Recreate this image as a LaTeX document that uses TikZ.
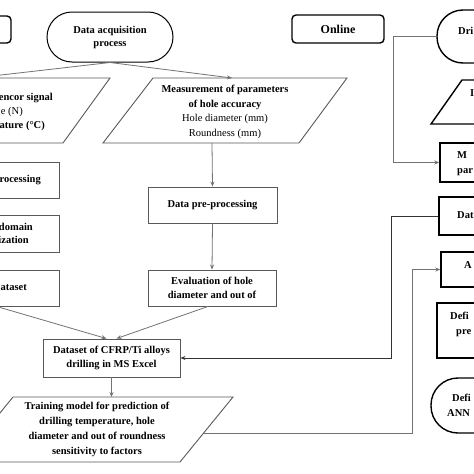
\documentclass[tikz,border=0pt]{standalone}
\usepackage{fontspec}
\setmainfont{Liberation Serif}
\usetikzlibrary{arrows.meta}
\begin{document}
\begin{tikzpicture}[x=1pt,y=-1pt,
  thinbox/.style={draw=black!65, line width=0.9pt, inner sep=0pt},
  thickbox/.style={draw=black, line width=1.4pt, inner sep=0pt},
  outl/.style={draw=black!65, line width=0.9pt},
  outlthick/.style={draw=black, line width=1.4pt},
  conn/.style={draw=black!55, line width=0.8pt},
  arr/.style={conn, -{Stealth[length=5pt,width=4pt]}},
  darr/.style={draw=black!80, line width=0.9pt, -{Stealth[length=5pt,width=4pt]}},
  txt/.style={font=\fontsize{10.5}{14}\selectfont\bfseries, align=center, inner sep=0pt},
  frag/.style={font=\fontsize{10.5}{14}\selectfont\bfseries, inner sep=0pt},
  fragr/.style={font=\fontsize{10.5}{14}\selectfont, inner sep=0pt}]
\useasboundingbox (0,0) rectangle (474,474);
\clip (0,0) rectangle (474,474);
\fill[white] (0,0) rectangle (474,474);

% left-top cut box
\node[thickbox, rounded corners=4pt, minimum width=71, minimum height=27] (tl) at (-24.5,29.5) {};
% data acquisition
\node[draw=black, line width=1pt, rounded corners=25pt, minimum width=126, minimum height=50, txt] (acq) at (110,37) {Data acquisition\\[-1pt]process};
% online
\node[thickbox, rounded corners=4pt, minimum width=92, minimum height=28, frag, font=\fontsize{12}{14}\selectfont\bfseries] (online) at (338,29) {Online};

% left parallelogram
\draw[outl] (-60,78) -- (110,78) -- (63,143) -- (-107,143) -- cycle;
\coordinate (lp) at (-25,78);
\node[frag, anchor=east] (s1) at (53,98) {encor signal};
\node[fragr, anchor=east] (s2) at (23,112) {e (N)};
\node[frag, anchor=east] (s3) at (45,126) {ature (°C)};

% measurement parallelogram
\draw[outl] (153,78) -- (347,78) -- (299,143) -- (103,143) -- cycle;
\coordinate (mp) at (232,78);
\coordinate (mpb) at (212,143);
\node[txt] (meas) at (225,112) {Measurement of parameters\\[1pt]of hole accuracy\\{\mdseries Hole diameter (mm)}\\[1pt]{\mdseries Roundness (mm)}};

% middle column
\node[thinbox, minimum width=129, minimum height=36, txt] (prep) at (212.5,205) {Data pre-processing};
\node[thinbox, minimum width=128, minimum height=36, txt] (eval) at (212,288) {Evaluation of hole\\diameter and out of};

% left column (cut)
\node[thinbox, minimum width=139, minimum height=36] (lb1) at (-10.5,180) {};
\node[frag, anchor=east] (t1) at (41,180) {rocessing};
\node[thinbox, minimum width=139, minimum height=37] (lb2) at (-10.5,233.5) {};
\node[frag, anchor=east] (t2) at (33,227) {domain};
\node[frag, anchor=east] (t3) at (29,240) {ization};
\node[thinbox, minimum width=139, minimum height=36] (lb3) at (-10.5,288) {};
\node[frag, anchor=east] (t4) at (27,288) {ataset};
\coordinate (lb3s) at (-5,306);

% dataset
\node[thinbox, minimum width=137, minimum height=38, txt] (dataset) at (111.5,358) {Dataset of CFRP/Ti alloys\\drilling in MS Excel};

% training parallelogram
\draw[outl] (13,397) -- (233,397) -- (180,462) -- (-40,462) -- cycle;
\coordinate (trt) at (111.5,397);
\coordinate (trr) at (204,433);
\node[txt, font=\fontsize{10.5}{15}\selectfont\bfseries] (train) at (97,429.5) {Training model for prediction of\\drilling temperature, hole\\diameter and out of roundness\\sensitivity to factors};

% right column (cut)
\node[thickbox, rounded corners=26pt, minimum width=150, minimum height=53] (drill) at (512,36.5) {};
\node[frag, anchor=west] (d1) at (458,31) {Dri};
\draw[outlthick] (462,80) -- (560,80) -- (560,124) -- (431,124) -- cycle;
\node[frag, anchor=west] (i1) at (470,93) {I};
\node[thickbox, minimum width=120, minimum height=39] (mbox) at (500,162.5) {};
\node[frag, anchor=west] (m1) at (457,155) {M};
\node[frag, anchor=west] (m2) at (457,172) {par};
\node[thickbox, minimum width=120, minimum height=38] (dat) at (499,216) {};
\node[frag, anchor=west] (da1) at (457,215) {Dat};
\node[thickbox, minimum width=120, minimum height=35] (abox) at (501,269.5) {};
\node[frag, anchor=west] (a1) at (464,265) {A};
\node[thickbox, minimum width=120, minimum height=55] (defp) at (497,330.5) {};
\node[frag, anchor=west] (p1) at (450,316) {Defi};
\node[frag, anchor=west] (p2) at (456,333) {pre};
\node[thickbox, rounded corners=27pt, minimum width=120, minimum height=55] (defa) at (491,405.5) {};
\node[frag, anchor=west] (q1) at (452,398) {Defi};
\node[frag, anchor=west] (q2) at (447,413) {ANN};

% connectors
\draw[arr] (acq.south) -- (lp);
\draw[arr] (acq.south) -- (mp);
\draw[arr] (mpb) -- (prep.north);
\draw[arr] (prep.south) -- (eval.north);
\draw[arr] (lb3s) -- ([xshift=-5pt]dataset.north);
\draw[arr] ([xshift=-4pt]eval.south) -- ([xshift=5pt]dataset.north);
\draw[arr] (dataset.south) -- (trt);
\draw[darr] (dat.west) -- ++(-47,0) |- (dataset.east);
\draw[arr] (trr) -- ++(208,0) |- (abox.west);
\draw[arr] (drill.west) -- ++(-43,0) |- (mbox.west);
\end{tikzpicture}
\end{document}
